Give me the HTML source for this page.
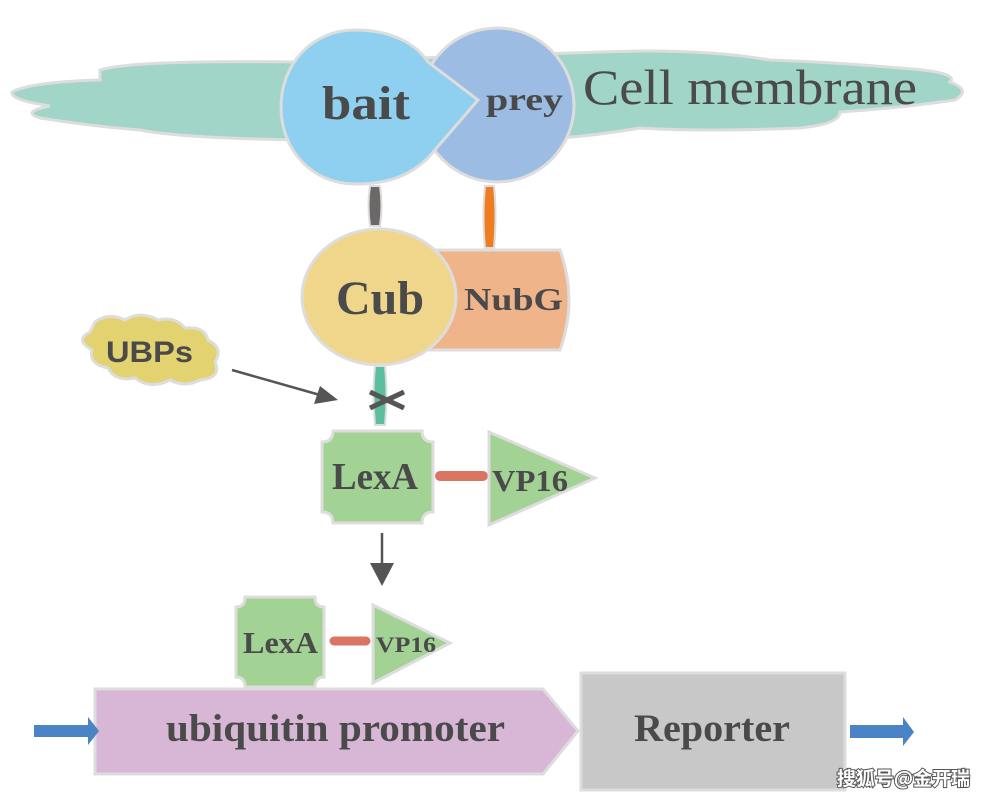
<!DOCTYPE html>
<html><head><meta charset="utf-8"><style>
html,body{margin:0;padding:0;background:#fff;}
svg{display:block}
text{font-family:"Liberation Serif",serif;fill:#4a4a4a;font-weight:bold}
</style></head><body>
<svg width="991" height="800" viewBox="0 0 991 800" xmlns="http://www.w3.org/2000/svg">
<!-- membrane -->
<path d="M100,70 Q130,60 300,62 L600,52 Q700,48 770,60 Q830,62 900,68 Q960,72 950,82 Q972,90 955,100 Q900,108 840,112 Q840,124 800,128 Q700,132 640,128 Q600,135 560,138 L300,140 Q180,138 140,130 Q90,126 40,118 Q20,112 50,106 Q10,100 12,92 Q30,82 100,80 Z" fill="#a0d5c8" stroke="#ddd" stroke-width="3"/>
<!-- prey -->
<ellipse cx="497" cy="105" rx="77" ry="77" fill="#9dbce4" stroke="#ddd" stroke-width="3"/>
<!-- bait -->
<path d="M355,30 C400,30 420,50 428,62 L478,100 L428,158 C410,175 390,184 355,184 C312,184 281,150 281,107 C281,64 312,30 355,30 Z" fill="#8fd0f0" stroke="#ddd" stroke-width="3"/>
<text x="322" y="119" font-size="48" textLength="88" lengthAdjust="spacingAndGlyphs">bait</text>
<text x="486" y="110" font-size="32" textLength="77" lengthAdjust="spacingAndGlyphs">prey</text>
<text x="583" y="104" font-size="50" textLength="334" lengthAdjust="spacingAndGlyphs" style="font-weight:normal">Cell membrane</text>
<!-- linkers -->
<path d="M370,186 L380,186 Q383,205 380,226 L370,226 Q367,205 370,186Z" fill="#6b6868" stroke="#ddd" stroke-width="2"/>
<path d="M485,186 L494,186 Q497,215 494,248 L485,248 Q482,215 485,186Z" fill="#f07c20" stroke="#ddd" stroke-width="2"/>
<!-- NubG -->
<path d="M430,250 L560,250 Q578,300 560,350 L430,350 Z" fill="#f0b48a" stroke="#ddd" stroke-width="3"/>
<ellipse cx="379" cy="297" rx="77" ry="68" fill="#f0d68a" stroke="#ddd" stroke-width="3"/>
<text x="336" y="314" font-size="48" textLength="88" lengthAdjust="spacingAndGlyphs">Cub</text>
<text x="464" y="310" font-size="32" textLength="99" lengthAdjust="spacingAndGlyphs">NubG</text>
<!-- UBPs -->
<path d="M95,322 Q108,312 125,320 Q140,310 158,320 Q175,316 185,328 Q205,326 208,340 Q224,348 215,362 Q222,378 200,380 Q185,388 170,380 Q150,390 135,378 Q115,382 108,368 Q88,364 92,350 Q74,340 90,332 Z" fill="#e2d270" stroke="#ddd" stroke-width="3"/>
<text x="106" y="362" font-size="30" textLength="87" lengthAdjust="spacingAndGlyphs" style="font-family:'Liberation Sans',sans-serif">UBPs</text>
<!-- arrow UBPs -->
<line x1="232" y1="370" x2="320" y2="395" stroke="#555" stroke-width="2.5"/>
<polygon points="338,400 314,404 320,386" fill="#555"/>
<!-- teal linker -->
<path d="M375,366 L385,366 Q388,395 385,425 L375,425 Q372,395 375,366Z" fill="#5bbf9f" stroke="#ddd" stroke-width="2"/>
<line x1="370" y1="392" x2="404" y2="408" stroke="#555" stroke-width="5"/>
<line x1="370" y1="408" x2="404" y2="392" stroke="#555" stroke-width="5"/>
<!-- LexA big -->
<path d="M333,431 L422,431 Q422,442 433,442 L433,512 Q422,512 422,523 L333,523 Q333,512 322,512 L322,442 Q333,442 333,431Z" fill="#a2d294" stroke="#ddd" stroke-width="3"/>
<text x="332" y="489" font-size="38" textLength="86" lengthAdjust="spacingAndGlyphs">LexA</text>
<line x1="440" y1="476" x2="483" y2="476" stroke="#d97662" stroke-width="10" stroke-linecap="round"/>
<polygon points="489,432 489,525 595,478" fill="#a2d294" stroke="#ddd" stroke-width="3"/>
<text x="492" y="491" font-size="31" textLength="76" lengthAdjust="spacingAndGlyphs">VP16</text>
<!-- down arrow -->
<line x1="382" y1="533" x2="382" y2="565" stroke="#555" stroke-width="2.5"/>
<polygon points="370,563 394,563 382,586" fill="#555"/>
<!-- small LexA -->
<path d="M245,597 L315,597 Q315,607 324,607 L324,677 Q315,677 315,687 L245,687 Q245,677 236,677 L236,607 Q245,607 245,597Z" fill="#a2d294" stroke="#ddd" stroke-width="3"/>
<text x="243" y="653" font-size="31" textLength="75" lengthAdjust="spacingAndGlyphs">LexA</text>
<line x1="334" y1="641" x2="366" y2="641" stroke="#d97662" stroke-width="9" stroke-linecap="round"/>
<polygon points="373,605 373,683 450,643" fill="#a2d294" stroke="#ddd" stroke-width="3"/>
<text x="376" y="652" font-size="22" textLength="60" lengthAdjust="spacingAndGlyphs">VP16</text>
<!-- promoter -->
<polygon points="95,689 543,689 578,731 543,774 95,774" fill="#d8b6d6" stroke="#ddd" stroke-width="3"/>
<text x="166" y="741" font-size="39" textLength="339" lengthAdjust="spacingAndGlyphs">ubiquitin promoter</text>
<rect x="581" y="673" width="264" height="117" fill="#c8c8c8" stroke="#ddd" stroke-width="3"/>
<text x="634" y="741" font-size="39" textLength="156" lengthAdjust="spacingAndGlyphs">Reporter</text>
<!-- blue arrows -->
<polygon points="34,725 88,725 88,717 99,731 88,745 88,737 34,737" fill="#4a84c6"/>
<polygon points="850,725 903,725 903,717 914,732 903,746 903,738 850,738" fill="#4a84c6"/>
<text x="970" y="785" font-size="19" text-anchor="end" style="font-family:'Noto Sans CJK SC',sans-serif;fill:#fff;stroke:#555;stroke-width:2;paint-order:stroke">搜狐号@金开瑞</text>
</svg>
</body></html>
